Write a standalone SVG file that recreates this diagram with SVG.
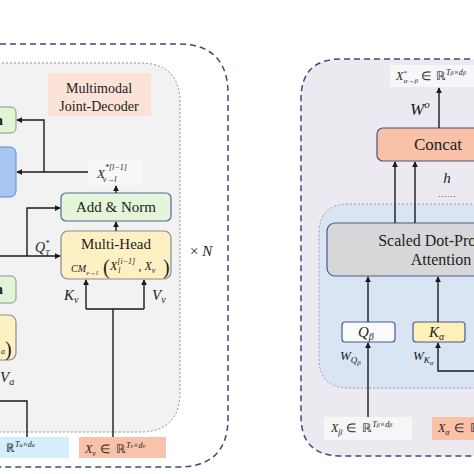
<svg xmlns="http://www.w3.org/2000/svg" width="474" height="474" viewBox="0 0 474 474">
<defs>
<marker id="ah" viewBox="0 0 8 8" refX="7" refY="4" markerWidth="6" markerHeight="6" orient="auto-start-reverse" markerUnits="userSpaceOnUse">
<path d="M0,0 L8,4 L0,8 z" fill="#1a1a1a"/>
</marker>
<style>
.t{font-family:"Liberation Serif","Times New Roman",serif;fill:#222}
.i{font-style:italic}
.c{stroke:#1a1a1a;stroke-width:1.4;fill:none}
.ca{stroke:#1a1a1a;stroke-width:1.4;fill:none;marker-end:url(#ah)}
</style>
</defs>
<rect width="474" height="474" fill="#ffffff"/>

<!-- Left panel -->
<g id="left-outer">
<path d="M-10,44 H178 Q228,44 228,94 V418 Q228,467 178,467 H-10" fill="#ffffff" stroke="#3d4a7a" stroke-width="1.5" stroke-dasharray="6,4"/>
</g>
<g id="left-inner">
<path d="M-10,63 H140 Q180,63 180,103 V392 Q180,432 140,432 H-10 Z" fill="#f2f2f3" stroke="#8a8d9a" stroke-width="1" stroke-dasharray="2,2"/>
</g>
<g id="decoder-label">
<rect x="48" y="73" width="103" height="43" fill="#fbe3d8"/>
<text class="t" x="99" y="93" font-size="14" text-anchor="middle">Multimodal</text>
<text class="t" x="99" y="111" font-size="14" text-anchor="middle">Joint-Decoder</text>
</g>
<g id="left-green-top">
<rect x="-20" y="107" width="36" height="26" rx="5" fill="#e2f3d6" stroke="#7f9a86" stroke-width="1"/>
<text class="t" x="3" y="125" font-size="15" font-weight="bold" text-anchor="end">Norm</text>
</g>
<g id="left-blue">
<rect x="-20" y="147" width="36" height="50" rx="6" fill="#a9c6f0" stroke="#5b86d0" stroke-width="1"/>
</g>
<g id="x-prev-label">
<rect x="88" y="160" width="55" height="25" fill="#f8f8f8"/>
<text class="t i" x="97" y="178" font-size="13">X<tspan font-size="8" dy="-8">*[l−1]</tspan><tspan font-size="8" dx="-24" dy="12">v→l</tspan></text>
</g>
<g id="add-norm">
<rect x="61" y="193" width="110" height="28" rx="5" fill="#e4f5d8" stroke="#4e6a9a" stroke-width="1.2"/>
<text class="t" x="116" y="212" font-size="15" text-anchor="middle">Add &amp; Norm</text>
</g>
<g id="multi-head">
<rect x="61" y="231" width="110" height="48" rx="7" fill="#fdf0c2" stroke="#8a8a8a" stroke-width="1.2"/>
<text class="t" x="116" y="249" font-size="15" text-anchor="middle">Multi-Head</text>
<text class="t i" x="71" y="272" font-size="10">CM<tspan font-size="7" dy="3">v→l</tspan></text>
<text class="t" x="103" y="274" font-size="20">(</text>
<text class="t i" x="110" y="270" font-size="12">X<tspan font-size="8" dy="-6">[i−1]</tspan><tspan font-size="8" dx="-17" dy="9">l</tspan><tspan dx="18" dy="-3" font-style="normal">,</tspan><tspan dx="3">X</tspan><tspan font-size="8" dy="3">v</tspan></text>
<text class="t" x="163" y="274" font-size="20">)</text>
</g>
<g id="times-n">
<text class="t" x="190" y="256" font-size="15">× <tspan class="i">N</tspan></text>
</g>
<g id="qt-label">
<text class="t i" x="35" y="252" font-size="14">Q<tspan font-size="8" dy="-6">*</tspan><tspan font-size="8" dx="-4" dy="10">T</tspan></text>
</g>
<g id="kv-label">
<text class="t i" x="64" y="300" font-size="15">K<tspan font-size="10" dy="3">v</tspan></text>
</g>
<g id="vv-label">
<text class="t i" x="152" y="300" font-size="15">V<tspan font-size="10" dy="3">v</tspan></text>
</g>
<g id="left-green-bottom">
<rect x="-20" y="276" width="36" height="27" rx="5" fill="#e2f3d6" stroke="#7f9a86" stroke-width="1"/>
<text class="t" x="3" y="294" font-size="15" font-weight="bold" text-anchor="end">Norm</text>
</g>
<g id="left-yellow">
<rect x="-20" y="315" width="36" height="45" rx="7" fill="#fdf0c2" stroke="#8a8a8a" stroke-width="1.2"/>
<text class="t i" x="1" y="354" font-size="8">a</text>
<text class="t" x="5" y="356" font-size="20">)</text>
</g>
<g id="va-label">
<text class="t i" x="0" y="382" font-size="15">V<tspan font-size="10" dy="3">a</tspan></text>
</g>
<g id="xa-box">
<rect x="-10" y="437" width="79" height="21" fill="#d4eefa"/>
<text class="t" x="6" y="452" font-size="12">ℝ<tspan class="i" font-size="8" dy="-5">T<tspan font-size="6">a</tspan>×d<tspan font-size="6">a</tspan></tspan></text>
</g>
<g id="xv-box">
<rect x="79" y="437" width="87" height="21" fill="#f9c3aa"/>
<text class="t i" x="85" y="453" font-size="12">X<tspan font-size="8" dy="3">v</tspan><tspan font-style="normal" dx="4" dy="-3">∈</tspan><tspan font-style="normal" dx="6">ℝ</tspan><tspan font-size="8" dy="-5">T<tspan font-size="6">v</tspan>×d<tspan font-size="6">v</tspan></tspan></text>
</g>

<!-- Right panel -->
<g id="right-outer">
<path d="M500,59 H341 Q301,59 301,99 V416 Q301,456 341,456 H500" fill="#ece9f0" stroke="#3d4a7a" stroke-width="1.5" stroke-dasharray="6,4"/>
</g>
<g id="right-inner">
<path d="M500,204 H349 Q319,204 319,234 V358 Q319,388 349,388 H500" fill="#d9e5f3" stroke="#8a9cbc" stroke-width="1" stroke-dasharray="2,2"/>
</g>
<g id="out-label">
<rect x="390" y="65" width="90" height="22" fill="#f7f7f9"/>
<text class="t i" x="396" y="80" font-size="12">X<tspan font-size="7" dy="-5">*</tspan><tspan font-size="7" dx="-3" dy="8">α→β</tspan><tspan font-style="normal" dx="3" dy="-3">∈</tspan><tspan font-style="normal" dx="5">ℝ</tspan><tspan font-size="8" dy="-5">T<tspan font-size="6">β</tspan>×d<tspan font-size="6">β</tspan></tspan></text>
</g>
<g id="wo-label">
<text class="t i" x="410" y="115" font-size="17">W<tspan font-size="11" dy="-7">o</tspan></text>
</g>
<g id="concat">
<rect x="377" y="128" width="130" height="33" rx="6" fill="#f8c1a8" stroke="#4b5272" stroke-width="1.2"/>
<text class="t" x="438" y="150" font-size="17" text-anchor="middle">Concat</text>
</g>
<g id="h-label">
<text class="t i" x="447" y="183" font-size="15" text-anchor="middle">h</text>
<text class="t" x="447" y="197" font-size="9" text-anchor="middle">……</text>
</g>
<g id="scaled-dot">
<rect x="327" y="223" width="180" height="53" rx="8" fill="#d7d7d9" stroke="#4a5a90" stroke-width="1.2"/>
<text class="t" x="441" y="246" font-size="16" text-anchor="middle">Scaled Dot-Product</text>
<text class="t" x="441" y="265" font-size="16" text-anchor="middle">Attention</text>
</g>
<g id="q-beta">
<rect x="342" y="322" width="53" height="20" rx="3" fill="#fbfbfc" stroke="#4a5a90" stroke-width="1.2"/>
<text class="t i" x="358" y="337" font-size="15">Q<tspan font-size="10" dy="3">β</tspan></text>
</g>
<g id="k-alpha">
<rect x="413" y="322" width="52" height="20" rx="3" fill="#fdf1b9" stroke="#4a5a90" stroke-width="1.2"/>
<text class="t i" x="429" y="337" font-size="15">K<tspan font-size="10" dy="3">α</tspan></text>
</g>
<g id="wq-label">
<text class="t i" x="340" y="360" font-size="13">W<tspan font-size="9" dy="3">Q<tspan font-size="7" dy="2">β</tspan></tspan></text>
</g>
<g id="wk-label">
<text class="t i" x="413" y="360" font-size="13">W<tspan font-size="9" dy="3">K<tspan font-size="7" dy="2">α</tspan></tspan></text>
</g>
<g id="xb-box">
<rect x="324" y="417" width="88" height="23" fill="#f6f6f7"/>
<text class="t i" x="331" y="432" font-size="12">X<tspan font-size="8" dy="3">β</tspan><tspan font-style="normal" dx="4" dy="-3">∈</tspan><tspan font-style="normal" dx="6">ℝ</tspan><tspan font-size="8" dy="-5">T<tspan font-size="6">β</tspan>×d<tspan font-size="6">β</tspan></tspan></text>
</g>
<g id="xa2-box">
<rect x="432" y="417" width="60" height="23" fill="#f8c1a8"/>
<text class="t i" x="438" y="432" font-size="12">X<tspan font-size="8" dy="3">α</tspan><tspan font-style="normal" dx="4" dy="-3">∈</tspan><tspan font-style="normal" dx="6">ℝ</tspan></text>
</g>

<!-- Connectors -->
<g id="connectors">
<path class="ca" d="M88,172 H17"/>
<path class="ca" d="M44,172 V120 H17"/>
<path class="ca" d="M116,193 V186"/>
<path class="ca" d="M116,231 V222"/>
<path class="ca" d="M-5,256 H60"/>
<path class="ca" d="M27,256 V208 H60"/>
<path class="c" d="M113,437 V309 M86,309 H144"/>
<path class="ca" d="M86,309 V280"/>
<path class="ca" d="M144,309 V280"/>
<path class="c" d="M-5,401 H27 V437"/>
<path class="ca" d="M439,128 V88"/>
<path class="ca" d="M395,223 V162"/>
<path class="ca" d="M415,223 V162"/>
<path class="ca" d="M368,322 V277"/>
<path class="ca" d="M438,322 V277"/>
<path class="ca" d="M368,417 V343"/>
<path class="ca" d="M480,371 H438 V343"/>
</g>
</svg>
